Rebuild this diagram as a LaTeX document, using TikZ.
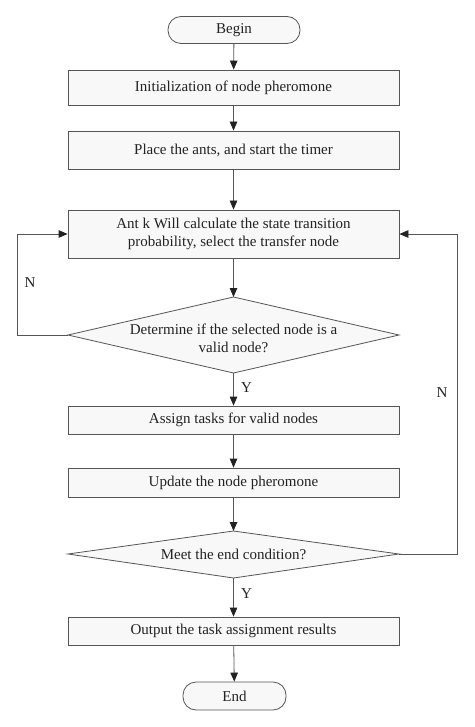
\documentclass[tikz,border=0pt]{standalone}
\usepackage{fontspec}
\setmainfont{Liberation Serif}
\usetikzlibrary{arrows.meta}
\definecolor{ln}{HTML}{555555}
\definecolor{fl}{HTML}{F8F8F8}
\definecolor{tx}{HTML}{222222}
\begin{document}
\begin{tikzpicture}[x=1pt,y=-1pt,
  every node/.style={font=\fontsize{15}{18}\selectfont, text=tx},
  procbox/.style={draw=ln, line width=0.8pt, fill=fl, rectangle, minimum width=331pt, inner sep=0pt, align=center},
  termbox/.style={draw=ln, line width=0.8pt, fill=fl, rounded corners=13pt, inner sep=0pt},
  decshape/.style={draw=ln, line width=0.8pt, fill=fl},
  flow/.style={draw=ln, line width=0.8pt, -{Triangle[length=9pt,width=7.5pt,fill=tx,color=tx]}},
  lbl/.style={font=\fontsize{15}{18}\selectfont}]
\useasboundingbox (0,0) rectangle (474,727);
\node[termbox, minimum width=132pt, minimum height=27pt] (begin) at (234,30) {Begin};
\node[procbox, minimum height=35pt] (init) at (233.5,87.5) {Initialization of node pheromone};
\node[procbox, minimum height=38pt] (place) at (233.5,150) {Place the ants, and start the timer};
\node[procbox, minimum height=48pt] (ant) at (233.5,234) {Ant k Will calculate the state transition\\probability, select the transfer node};
\coordinate (d1top) at (233.5,297);
\coordinate (d1bot) at (233.5,373);
\coordinate (d1l) at (68,335);
\coordinate (d1r) at (399,335);
\path[decshape] (d1l) -- (d1top) -- (d1r) -- (d1bot) -- cycle;
\node[align=center] (d1t) at (233.5,338) {Determine if the selected node is a\\valid node?};
\node[procbox, minimum height=28pt] (assign) at (233.5,420) {Assign tasks for valid nodes};
\node[procbox, minimum height=29pt] (update) at (233.5,482.5) {Update the node pheromone};
\coordinate (d2top) at (233.5,531);
\coordinate (d2bot) at (233.5,578);
\coordinate (d2l) at (68,554);
\coordinate (d2r) at (399,554);
\path[decshape] (d2l) -- (d2top) -- (d2r) -- (d2bot) -- cycle;
\node (d2t) at (233.5,554) {Meet the end condition?};
\node[procbox, minimum height=28pt] (out) at (233.5,631) {Output the task assignment results};
\node[termbox, minimum width=103pt, minimum height=28pt] (end) at (234.5,696) {End};
\coordinate (ll) at (17,335);
\coordinate (rr) at (457,554);
\draw[flow] (begin) -- (init);
\draw[flow] (init) -- (place);
\draw[flow] (place) -- (ant);
\draw[flow] (ant) -- (d1top);
\draw[flow] (d1bot) -- (assign) node[pos=0.45, right=4pt, lbl] {Y};
\draw[flow] (assign) -- (update);
\draw[flow] (update) -- (d2top);
\draw[flow] (d2bot) -- (out) node[pos=0.4, right=4pt, lbl] {Y};
\draw[flow] (out) -- (end);
\draw[flow] (d1l) -- (ll) |- (ant.west);
\draw[flow] (d2r) -- (rr) |- (ant.east);
\node[lbl] (nl) at (30,283) {N};
\node[lbl] (nr) at (442,393) {N};
\end{tikzpicture}
\end{document}
